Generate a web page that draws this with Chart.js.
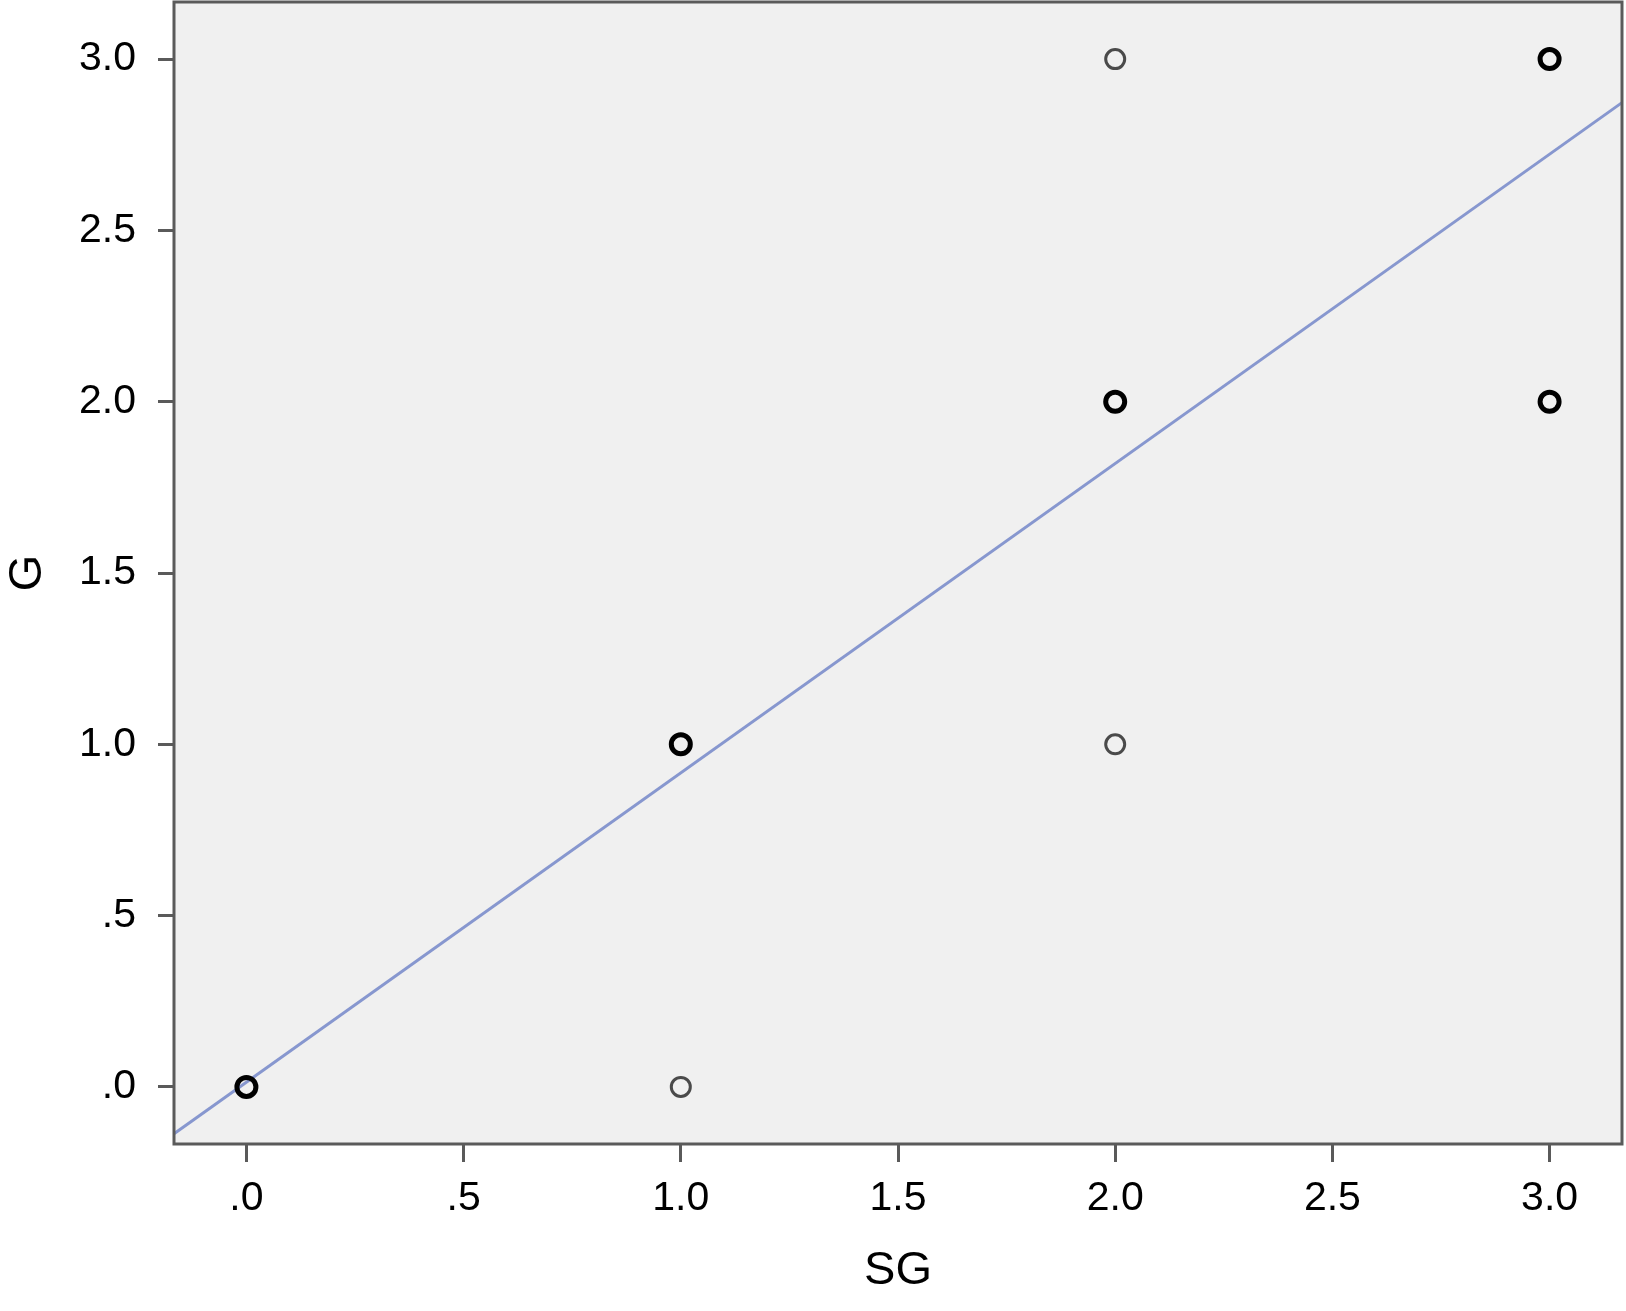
<!DOCTYPE html>
<html>
<head>
<meta charset="utf-8">
<script src="https://cdn.jsdelivr.net/npm/chart.js@4"></script>
<style>
  html, body { margin: 0; padding: 0; background: #fff; }
  #wrap { width: 1626px; height: 1311px; }
</style>
</head>
<body>
<div id="wrap"><canvas id="chart" width="1626" height="1311"></canvas></div>
<script>
// axis ticks
const tickValues = [0, 0.5, 1, 1.5, 2, 2.5, 3];
const tickLabels = ['.0', '.5', '1.0', '1.5', '2.0', '2.5', '3.0'];
const axisMin = -0.1667;
const axisMax = 3.1667;

// points drawn heavier (several cases overlap)
const boldX = [0, 1, 2, 3, 3];
const boldY = [0, 1, 2, 2, 3];
// single cases
const thinX = [1, 2, 2];
const thinY = [0, 1, 3];

// fit line, end to end across the plot
const fitX = [-0.1667, 3.1667];
const fitY = [-0.137, 2.873];

const toXY = (xs, ys) => xs.map((x, i) => ({ x: x, y: ys[i] }));

const frame = {
  id: 'frame',
  beforeDatasetsDraw(chart) {
    const { ctx, chartArea: a } = chart;
    ctx.save();
    ctx.fillStyle = '#f0f0f0';
    ctx.fillRect(a.left, a.top, a.right - a.left, a.bottom - a.top);
    ctx.restore();
  },
  afterDraw(chart) {
    const { ctx, chartArea: a } = chart;
    ctx.save();
    ctx.strokeStyle = '#5a5a5a';
    ctx.lineWidth = 3;
    ctx.strokeRect(a.left, a.top, a.right - a.left, a.bottom - a.top);
    ctx.restore();
  }
};

function setTicks(scale) {
  scale.ticks = tickValues.map(v => ({ value: v }));
}

const tickFont = { family: 'Liberation Sans, Arial, sans-serif', size: 41 };
const titleFont = { family: 'Liberation Sans, Arial, sans-serif', size: 47 };

new Chart(document.getElementById('chart'), {
  type: 'scatter',
  data: {
    datasets: [
      {
        type: 'line',
        data: toXY(fitX, fitY),
        borderColor: '#8797cf',
        borderWidth: 3,
        pointRadius: 0,
        fill: false,
        order: 3
      },
      {
        data: toXY(thinX, thinY),
        pointRadius: 9.5,
        pointBorderWidth: 3,
        pointBorderColor: '#4a4a4a',
        pointBackgroundColor: 'rgba(0,0,0,0)',
        order: 2
      },
      {
        data: toXY(boldX, boldY),
        pointRadius: 9.5,
        pointBorderWidth: 5,
        pointBorderColor: '#000',
        pointBackgroundColor: 'rgba(0,0,0,0)',
        order: 1
      }
    ]
  },
  options: {
    responsive: false,
    devicePixelRatio: 1,
    animation: false,
    clip: false,
    layout: { autoPadding: false, padding: { top: 2, right: 4, left: 0, bottom: 0 } },
    plugins: {
      legend: { display: false },
      tooltip: { enabled: false }
    },
    scales: {
      x: {
        type: 'linear',
        min: axisMin,
        max: axisMax,
        afterBuildTicks: setTicks,
        afterFit(scale) {
          scale.height = 167;
          scale.paddingLeft = 0;
          scale.paddingRight = 0;
        },
        border: { display: false },
        grid: {
          drawOnChartArea: false,
          drawTicks: true,
          tickLength: 18,
          tickWidth: 3,
          tickColor: '#5a5a5a'
        },
        ticks: {
          color: '#000',
          font: tickFont,
          padding: 12,
          maxRotation: 0,
          callback: (v, i) => tickLabels[i]
        },
        title: {
          display: true,
          text: 'SG',
          color: '#000',
          font: titleFont,
          padding: { top: 0, bottom: 12 }
        }
      },
      y: {
        type: 'linear',
        min: axisMin,
        max: axisMax,
        afterBuildTicks: setTicks,
        afterFit(scale) {
          scale.width = 174;
          scale.paddingTop = 0;
          scale.paddingBottom = 0;
        },
        border: { display: false },
        grid: {
          drawOnChartArea: false,
          drawTicks: true,
          tickLength: 16,
          tickWidth: 3,
          tickColor: '#5a5a5a'
        },
        ticks: {
          color: '#000',
          font: tickFont,
          padding: 22,
          callback: (v, i) => tickLabels[i]
        },
        title: {
          display: true,
          text: 'G',
          color: '#000',
          font: titleFont,
          padding: { top: 0, bottom: 0 }
        }
      }
    }
  },
  plugins: [frame]
});
</script>
</body>
</html>
